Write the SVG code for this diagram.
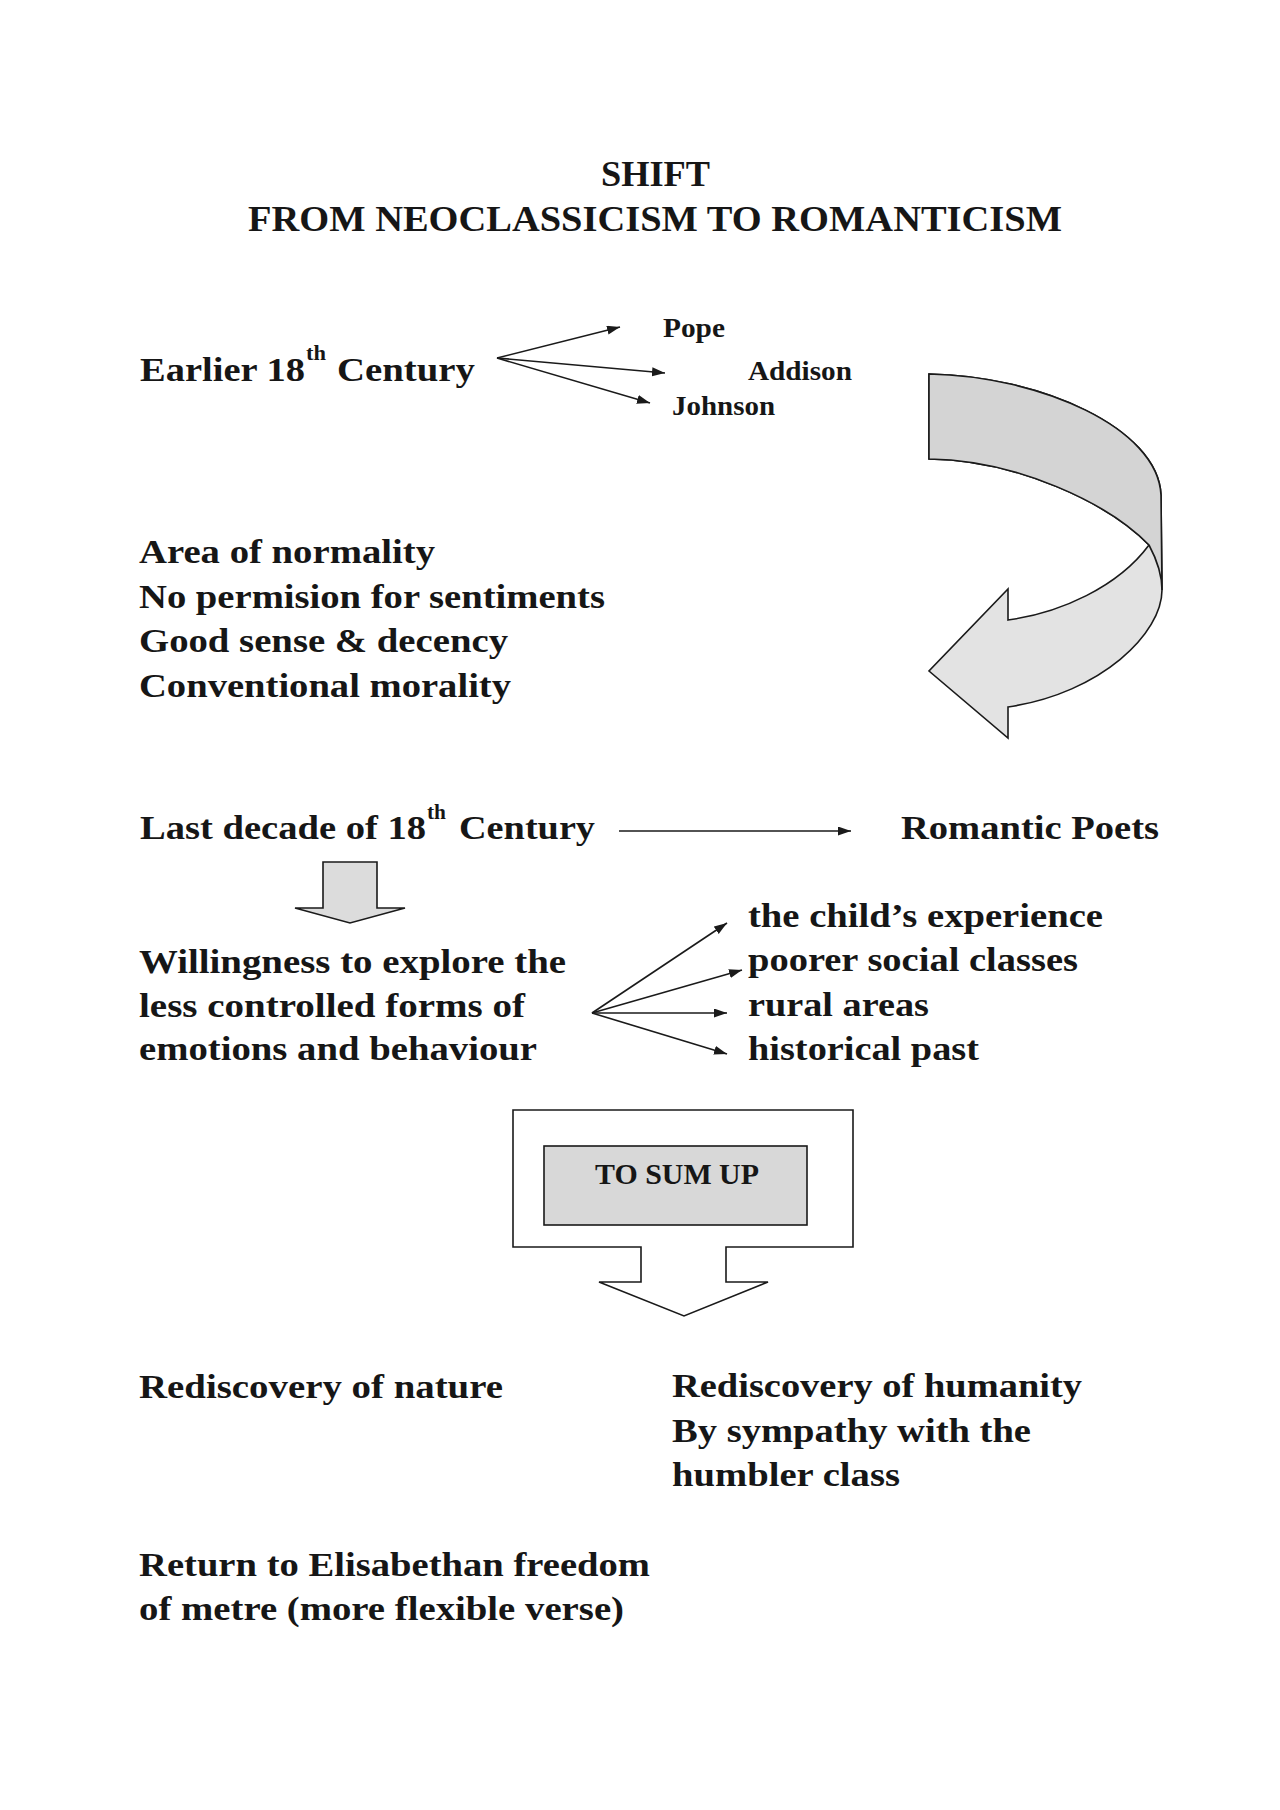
<svg xmlns="http://www.w3.org/2000/svg" width="1280" height="1810" viewBox="0 0 1280 1810">
<style>
text{font-family:"Liberation Serif","Times New Roman",serif;font-weight:bold;fill:#161616}
.t{font-size:35px}
.b{font-size:33px}
.s{font-size:20px}
.n{font-size:27px}
.ln{fill:none;stroke:#1a1a1a;stroke-width:1.6}
.sh{stroke:#1a1a1a;stroke-width:1.6;stroke-linejoin:miter}
</style>
<defs>
<marker id="ah" markerUnits="userSpaceOnUse" markerWidth="14" markerHeight="10" refX="13" refY="4.5" orient="auto">
<path d="M0,0 L13,4.5 L0,9 Z" fill="#1a1a1a"/>
</marker>
</defs>
<rect width="1280" height="1810" fill="#ffffff"/>

<g id="title">
<text class="t" x="601" y="186" textLength="109" lengthAdjust="spacingAndGlyphs">SHIFT</text>
<text class="t" x="248" y="231" textLength="814" lengthAdjust="spacingAndGlyphs">FROM NEOCLASSICISM TO ROMANTICISM</text>
</g>

<g id="earlier">
<text class="b" x="140" y="381" textLength="165" lengthAdjust="spacingAndGlyphs">Earlier 18</text>
<text class="s" x="306" y="360" textLength="20" lengthAdjust="spacingAndGlyphs">th</text>
<text class="b" x="337" y="381" textLength="138" lengthAdjust="spacingAndGlyphs">Century</text>
</g>

<g id="pope"><text class="n" x="663" y="337" textLength="62" lengthAdjust="spacingAndGlyphs">Pope</text></g>
<g id="addison"><text class="n" x="748" y="380" textLength="104" lengthAdjust="spacingAndGlyphs">Addison</text></g>
<g id="johnson"><text class="n" x="672" y="415" textLength="103" lengthAdjust="spacingAndGlyphs">Johnson</text></g>

<g id="neoclassic-traits">
<text class="b" x="139" y="563" textLength="296" lengthAdjust="spacingAndGlyphs">Area of normality</text>
<text class="b" x="139" y="608" textLength="466" lengthAdjust="spacingAndGlyphs">No permision for sentiments</text>
<text class="b" x="139" y="652" textLength="369" lengthAdjust="spacingAndGlyphs">Good sense &amp; decency</text>
<text class="b" x="139" y="697" textLength="372" lengthAdjust="spacingAndGlyphs">Conventional morality</text>
</g>

<g id="curved-arrow">
<path class="sh" fill="#e3e3e3" d="M929,374 C1040,376 1158,428 1161,495 L1162,590 C1162,633 1102,693 1008,707 L1008,738 L929,671 L1008,589 L1008,620 C1060,613 1118,587 1149,545 C1108,503 1017,460 929,459 Z"/>
<path class="sh" fill="#d4d4d4" d="M929,374 C1040,376 1158,428 1161,495 L1162,590 C1162,577 1157,560 1149,545 C1108,503 1017,460 929,459 Z"/>
</g>

<g id="last-decade">
<text class="b" x="140" y="839" textLength="286" lengthAdjust="spacingAndGlyphs">Last decade of 18</text>
<text class="s" x="427" y="819" textLength="19" lengthAdjust="spacingAndGlyphs">th</text>
<text class="b" x="459" y="839" textLength="136" lengthAdjust="spacingAndGlyphs">Century</text>
</g>

<g id="romantic-poets"><text class="b" x="901" y="839" textLength="258" lengthAdjust="spacingAndGlyphs">Romantic Poets</text></g>

<g id="down-arrow-small">
<path class="sh" fill="#dcdcdc" d="M323,862 H377 V908 H405 L350,923 L295,908 H323 Z"/>
</g>

<g id="willingness">
<text class="b" x="139" y="973" textLength="427" lengthAdjust="spacingAndGlyphs">Willingness to explore the</text>
<text class="b" x="139" y="1017" textLength="386" lengthAdjust="spacingAndGlyphs">less controlled forms of</text>
<text class="b" x="139" y="1060" textLength="398" lengthAdjust="spacingAndGlyphs">emotions and behaviour</text>
</g>

<g id="child"><text class="b" x="748" y="927" textLength="355" lengthAdjust="spacingAndGlyphs">the child’s experience</text></g>
<g id="poorer"><text class="b" x="748" y="971" textLength="330" lengthAdjust="spacingAndGlyphs">poorer social classes</text></g>
<g id="rural"><text class="b" x="748" y="1016" textLength="181" lengthAdjust="spacingAndGlyphs">rural areas</text></g>
<g id="historical"><text class="b" x="748" y="1060" textLength="231" lengthAdjust="spacingAndGlyphs">historical past</text></g>

<g id="to-sum-up">
<path class="sh" fill="#ffffff" d="M513,1110 H853 V1247 H726 V1282 H768 L684,1316 L599,1282 H641 V1247 H513 Z"/>
<rect class="sh" x="544" y="1146" width="263" height="79" fill="#d8d8d8"/>
<text x="595" y="1184" font-size="30" textLength="164" lengthAdjust="spacingAndGlyphs">TO SUM UP</text>
</g>

<g id="nature"><text class="b" x="139" y="1398" textLength="364" lengthAdjust="spacingAndGlyphs">Rediscovery of nature</text></g>

<g id="humanity">
<text class="b" x="672" y="1397" textLength="410" lengthAdjust="spacingAndGlyphs">Rediscovery of humanity</text>
<text class="b" x="672" y="1442" textLength="359" lengthAdjust="spacingAndGlyphs">By sympathy with the</text>
<text class="b" x="672" y="1486" textLength="228" lengthAdjust="spacingAndGlyphs">humbler class</text>
</g>

<g id="metre">
<text class="b" x="139" y="1576" textLength="511" lengthAdjust="spacingAndGlyphs">Return to Elisabethan freedom</text>
<text class="b" x="139" y="1620" textLength="485" lengthAdjust="spacingAndGlyphs">of metre (more flexible verse)</text>
</g>

<g id="connectors">
<line class="ln" x1="497" y1="358" x2="620" y2="327" marker-end="url(#ah)"/>
<line class="ln" x1="497" y1="358" x2="665" y2="373" marker-end="url(#ah)"/>
<line class="ln" x1="497" y1="358" x2="650" y2="403" marker-end="url(#ah)"/>
<line class="ln" x1="619" y1="831" x2="851" y2="831" marker-end="url(#ah)"/>
<line class="ln" x1="592" y1="1013" x2="727" y2="923" marker-end="url(#ah)"/>
<line class="ln" x1="592" y1="1013" x2="742" y2="970" marker-end="url(#ah)"/>
<line class="ln" x1="592" y1="1013" x2="727" y2="1013" marker-end="url(#ah)"/>
<line class="ln" x1="592" y1="1013" x2="727" y2="1054" marker-end="url(#ah)"/>
</g>
</svg>
